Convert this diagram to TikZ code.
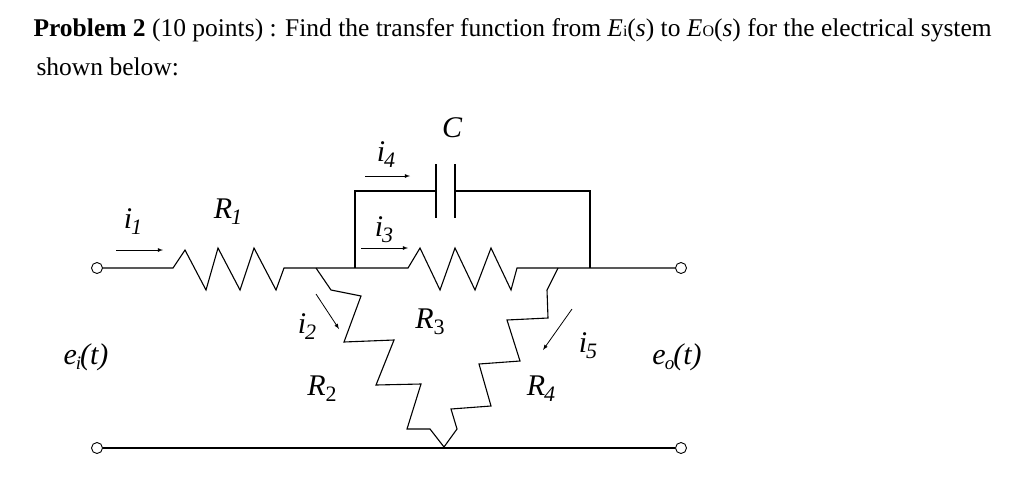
\documentclass[tikz,border=0pt]{standalone}
\usepackage{fontspec}
\setmainfont{Liberation Serif}
\begin{document}
\begin{tikzpicture}[x=1pt,y=-1pt,line width=1.1pt,
  term/.style={circle,draw,fill=white,inner sep=0pt,minimum size=11pt,line width=0.9pt},
  lbl/.style={font=\fontsize{30}{32}\selectfont\itshape,inner sep=0pt},
  cur/.style={-latex,line width=0.8pt}]
\useasboundingbox (0,0) rectangle (1024,501);
\node[anchor=base west,inner sep=0pt,font=\fontsize{25.5}{27}\selectfont] (t1) at (33,36) {\textbf{Problem 2} (10 points) : Find the transfer function from \textit{E}{\fontsize{16}{16}\selectfont i}(\textit{s}) to \textit{E}{\fontsize{16}{16}\selectfont O}(\textit{s}) for the electrical system};
\node[anchor=base west,inner sep=0pt,font=\fontsize{25.5}{27}\selectfont] (t2) at (36,75) {shown below:};
% terminals
\node[term] (a) at (97,268) {};
\node[term] (b) at (681,268) {};
\node[term] (c) at (97,448) {};
\node[term] (d) at (681,448) {};
\coordinate (g) at (444,447);
% top line with R1 and R3
\draw (a) -- (173,268) -- (185,250) -- (206,290) -- (218,248) -- (240,290) -- (254,248) -- (276,290) -- (284,268)
  -- (408,268) -- (420,248) -- (440,290) -- (455,248) -- (475,290) -- (491,248) -- (511,290) -- (517,268) -- (b);
% C branch
\draw (355,268) -- (355,191) -- (436,191);
\draw (455,191) -- (590,191) -- (590,268);
\draw (436,164) -- (436,218);
\draw (455,164) -- (455,218);
% bottom line
\draw (c) -- (d);
% R2
\draw (316,268) -- (331,290) -- (361,296) -- (344,342) -- (394,340) -- (376,385) -- (421,384) -- (407,429) -- (430,429) -- (g);
% R4
\draw (558,268) -- (547,290) -- (548,318) -- (507,320) -- (520,361) -- (479,364) -- (491,406) -- (451,409) -- (457,429) -- (g);
% currents
\draw[cur] (116,250) -- (163,250);
\draw[cur] (365,176) -- (410,176);
\draw[cur] (361,248) -- (408,248);
\draw[cur] (316,294) -- (339,329);
\draw[cur] (572,309) -- (543,350);
% labels
\node[lbl] (lC) at (452,128) {C};
\node[lbl] (l4) at (386,155) {i\kern-1pt\raisebox{-6pt}{\fontsize{22}{22}\selectfont 4}};
\node[lbl] (l3) at (384,230) {i\kern-1pt\raisebox{-6pt}{\fontsize{22}{22}\selectfont 3}};
\node[lbl] (l1) at (133,222) {i\kern-1pt\raisebox{-6pt}{\fontsize{22}{22}\selectfont 1}};
\node[lbl] (l2) at (307,327) {i\kern-1pt\raisebox{-6pt}{\fontsize{22}{22}\selectfont 2}};
\node[lbl] (l5) at (588,346) {i\kern-1pt\raisebox{-6pt}{\fontsize{22}{22}\selectfont 5}};
\node[lbl] (r1) at (228,212) {R\kern-1pt\raisebox{-6pt}{\fontsize{22}{22}\selectfont 1}};
\node[lbl] (r3) at (430,322) {R\raisebox{-6pt}{\fontsize{22}{22}\selectfont\upshape 3}};
\node[lbl] (r2) at (322,389) {R\raisebox{-6pt}{\fontsize{22}{22}\selectfont\upshape 2}};
\node[lbl] (r4) at (541,389) {R\kern-1pt\raisebox{-6pt}{\fontsize{22}{22}\selectfont 4}};
\node[lbl] (ei) at (86,357) {e\kern-1pt\raisebox{-5pt}{\fontsize{19}{19}\selectfont i}\kern-1pt(t)};
\node[lbl] (eo) at (677,357) {e\kern-1pt\raisebox{-5pt}{\fontsize{19}{19}\selectfont o}\kern-1pt(t)};
\end{tikzpicture}
\end{document}
